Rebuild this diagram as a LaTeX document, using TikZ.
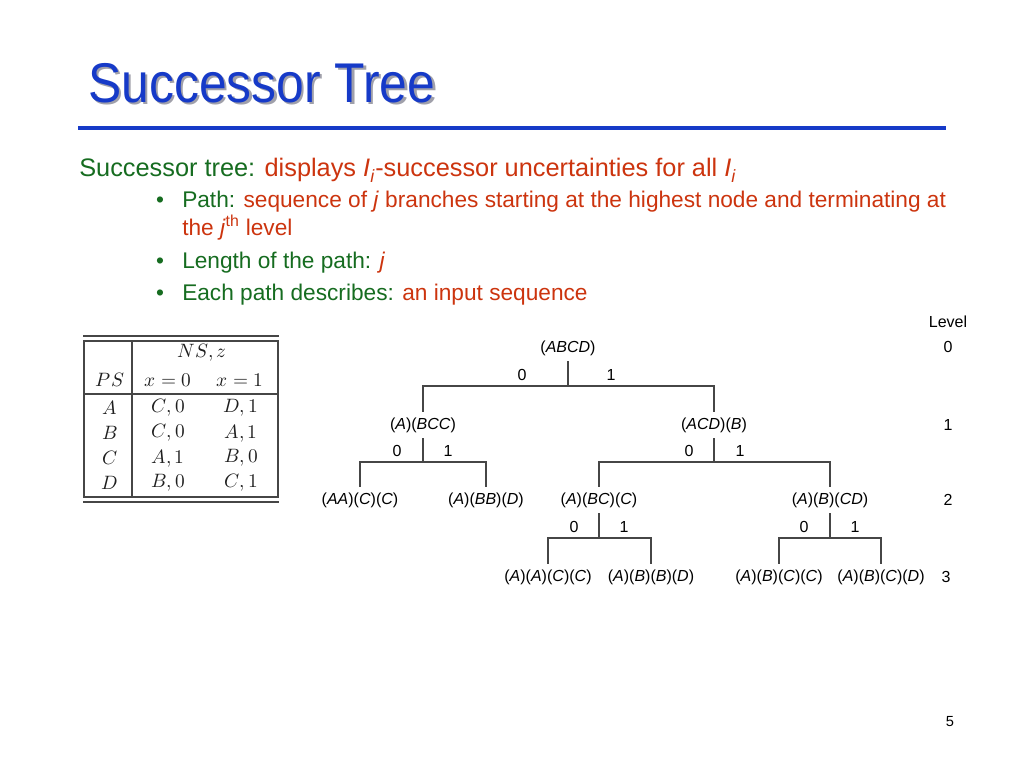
\documentclass[tikz,border=0pt]{standalone}
\usepackage{fontspec}
\setmainfont{Liberation Sans}
\usepackage{unicode-math}
\setmathfont{Latin Modern Math}
\definecolor{titleblue}{RGB}{22,58,200}
\definecolor{shadowgray}{RGB}{160,160,170}
\definecolor{bodygreen}{RGB}{22,108,32}
\definecolor{bodyred}{RGB}{204,52,14}
\definecolor{rulegray}{RGB}{70,70,70}
\definecolor{tabtext}{RGB}{30,30,30}
\tikzset{
  titletext/.style={anchor=base west, font=\fontsize{42}{46}\selectfont, inner sep=0pt},
  bodytext/.style={anchor=base west, inner sep=0pt, font=\fontsize{17}{20}\selectfont},
  bullet/.style={anchor=base, inner sep=0pt, font=\fontsize{17}{20}\selectfont, text=bodygreen},
  treenode/.style={font=\fontsize{12}{14}\selectfont, text height=9pt, text depth=2.6pt, inner sep=3.9pt},
  branchlabel/.style={font=\fontsize{12}{14}\selectfont, inner sep=0pt},
  levellabel/.style={font=\fontsize{12}{14}\selectfont, inner sep=0pt},
  branch/.style={draw=rulegray, line width=0.9pt},
  tabcell/.style={text=tabtext, inner sep=0pt, font=\fontsize{14.5}{16}\selectfont},
  tabrule/.style={draw=rulegray, line width=0.8pt}
}
\newcommand{\ti}[1]{\textit{#1}}
\newcommand{\shadowed}[1]{\makebox[0pt][l]{\hspace{2pt}\raisebox{-2pt}{\textcolor{shadowgray}{#1}}}#1}
\begin{document}
\begin{tikzpicture}[x=0.75pt, y=-0.75pt]
\useasboundingbox (0,0) rectangle (1024,768);
% title
\node[titletext, text=titleblue] (title) at (88,102) {\scalebox{0.89}[1]{\shadowed{Successor Tree}}};
\draw[titleblue, line width=2.4pt] (78,128) -- (946,128);
% body
\node[bodytext, font=\fontsize{19}{22}\selectfont] (l1) at (79,176)
  {\textcolor{bodygreen}{Successor tree:} \textcolor{bodyred}{displays \textit{I}\textsubscript{\textit{i}}-successor uncertainties for all \textit{I}\textsubscript{\textit{i}}}};
\node[bullet] (b1) at (160,207) {•};
\node[bodytext] (l2) at (182,207)
  {\textcolor{bodygreen}{Path:} \textcolor{bodyred}{sequence of \textit{j} branches starting at the highest node and terminating at}};
\node[bodytext, text=bodyred] (l2b) at (182,235) {the \textit{j}\textsuperscript{th} level};
\node[bullet] (b2) at (160,268) {•};
\node[bodytext] (l3) at (182,268)
  {\textcolor{bodygreen}{Length of the path:} \textcolor{bodyred}{\textit{j}}};
\node[bullet] (b3) at (160,300) {•};
\node[bodytext] (l4) at (182,300)
  {\textcolor{bodygreen}{Each path describes:} \textcolor{bodyred}{an input sequence}};
% table
\draw[tabrule] (83,336) -- (279,336);
\draw[tabrule] (83,341) -- (279,341);
\draw[tabrule] (83,497) -- (279,497);
\draw[tabrule] (83,502) -- (279,502);
\draw[tabrule] (84,341) -- (84,497);
\draw[tabrule] (132,341) -- (132,497);
\draw[tabrule] (278,341) -- (278,497);
\draw[tabrule] (84,394) -- (278,394);
\node[tabcell] (hns) at (202,353) {$NS,z$};
\node[tabcell] (hps) at (110,380) {$PS$};
\node[tabcell] (hx0) at (168,380) {$x=0$};
\node[tabcell] (hx1) at (240,380) {$x=1$};
\node[tabcell] (ra) at (110,408) {$A$};
\node[tabcell] (ra0) at (168,408) {$C,0$};
\node[tabcell] (ra1) at (241,408) {$D,1$};
\node[tabcell] (rb) at (110,433) {$B$};
\node[tabcell] (rb0) at (168,433) {$C,0$};
\node[tabcell] (rb1) at (241,433) {$A,1$};
\node[tabcell] (rc) at (110,458) {$C$};
\node[tabcell] (rc0) at (168,458) {$A,1$};
\node[tabcell] (rc1) at (241,458) {$B,0$};
\node[tabcell] (rd) at (110,483) {$D$};
\node[tabcell] (rd0) at (168,483) {$B,0$};
\node[tabcell] (rd1) at (241,483) {$C,1$};
% tree
\node[treenode] (r) at (568,348) {(\ti{ABCD})};
\node[treenode] (a) at (423,425) {(\ti{A})(\ti{BCC})};
\node[treenode] (b) at (714,425) {(\ti{ACD})(\ti{B})};
\node[treenode] (aa) at (360,500) {(\ti{AA})(\ti{C})(\ti{C})};
\node[treenode] (ab) at (486,500) {(\ti{A})(\ti{BB})(\ti{D})};
\node[treenode] (ba) at (599,500) {(\ti{A})(\ti{BC})(\ti{C})};
\node[treenode] (bb) at (830,500) {(\ti{A})(\ti{B})(\ti{CD})};
\node[treenode] (baa) at (548,577) {(\ti{A})(\ti{A})(\ti{C})(\ti{C})};
\node[treenode] (bab) at (651,577) {(\ti{A})(\ti{B})(\ti{B})(\ti{D})};
\node[treenode] (bba) at (779,577) {(\ti{A})(\ti{B})(\ti{C})(\ti{C})};
\node[treenode] (bbb) at (881,577) {(\ti{A})(\ti{B})(\ti{C})(\ti{D})};
% junctions
\coordinate (j0) at (568,386);
\coordinate (j1) at (423,462);
\coordinate (j2) at (714,462);
\coordinate (j3) at (599,538);
\coordinate (j4) at (830,538);
\draw[branch] (r.south) -- (j0);
\draw[branch] (a.north) |- (j0) -| (b.north);
\draw[branch] (a.south) -- (j1);
\draw[branch] (aa.north) |- (j1) -| (ab.north);
\draw[branch] (b.south) -- (j2);
\draw[branch] (ba.north) |- (j2) -| (bb.north);
\draw[branch] (ba.south) -- (j3);
\draw[branch] (baa.north) |- (j3) -| (bab.north);
\draw[branch] (bb.south) -- (j4);
\draw[branch] (bba.north) |- (j4) -| (bbb.north);
% branch labels
\node[branchlabel] (l00) at (522,375) {0};
\node[branchlabel] (l01) at (611,375) {1};
\node[branchlabel] (l10) at (397,451) {0};
\node[branchlabel] (l11) at (448,451) {1};
\node[branchlabel] (l20) at (689,451) {0};
\node[branchlabel] (l21) at (740,451) {1};
\node[branchlabel] (l30) at (574,527) {0};
\node[branchlabel] (l31) at (624,527) {1};
\node[branchlabel] (l40) at (804,527) {0};
\node[branchlabel] (l41) at (855,527) {1};
% levels
\node[levellabel] (lev) at (948,322) {Level};
\node[levellabel] (lev0) at (948,347) {0};
\node[levellabel] (lev1) at (948,425) {1};
\node[levellabel] (lev2) at (948,500) {2};
\node[levellabel] (lev3) at (946,577) {3};
% page number
\node[levellabel, font=\fontsize{11}{13}\selectfont] (page) at (950,722) {5};
\end{tikzpicture}
\end{document}
